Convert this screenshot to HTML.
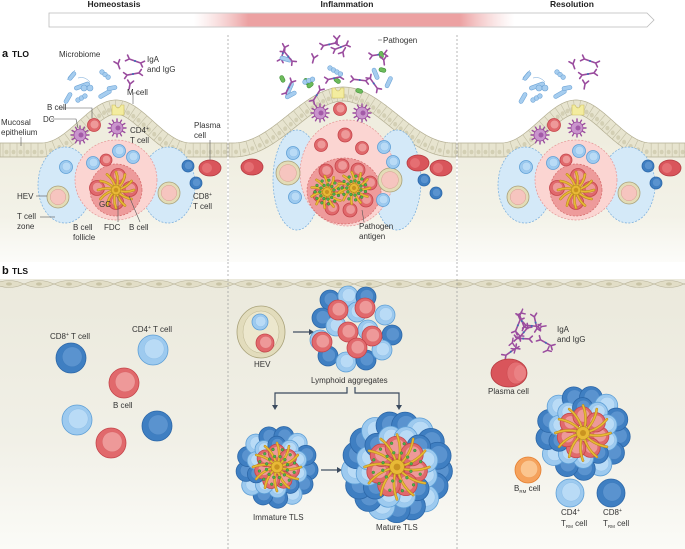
<!DOCTYPE html>
<html><head><meta charset="utf-8">
<style>
html,body{margin:0;padding:0;background:#fff;}
svg{display:block;font-family:"Liberation Sans",sans-serif;}
text{fill:#333;font-size:8px;}
.h{font-weight:bold;font-size:8.5px;fill:#222;}
</style></head><body>
<svg id="s" width="685" height="549" viewBox="0 0 685 549" xmlns="http://www.w3.org/2000/svg">
<defs>
<linearGradient id="barp" x1="49" x2="653" gradientUnits="userSpaceOnUse">
<stop offset="0.24" stop-color="#f4c4c4" stop-opacity="0"/>
<stop offset="0.33" stop-color="#eca1a2"/>
<stop offset="0.68" stop-color="#eca1a2"/>
<stop offset="0.77" stop-color="#f4c4c4" stop-opacity="0"/>
</linearGradient>
<linearGradient id="ga" x1="0" x2="0" y1="140" y2="278" gradientUnits="userSpaceOnUse">
<stop offset="0" stop-color="#efeddf"/><stop offset="0.55" stop-color="#f3f2e8"/><stop offset="1" stop-color="#fff"/>
</linearGradient>
<linearGradient id="gb" x1="0" x2="0" y1="280" y2="549" gradientUnits="userSpaceOnUse">
<stop offset="0" stop-color="#ebe9dc"/><stop offset="0.6" stop-color="#f1f0e7"/><stop offset="1" stop-color="#fbfbf7"/>
</linearGradient>
</defs>
<rect width="685" height="549" fill="#fff"/>
<path d="M49,13 L647,13 L654,20 L647,27 L49,27 Z" fill="#fff" stroke="#bbb" stroke-width="0.8"/>
<path d="M49,13.5 L647,13.5 L653,20 L647,26.5 L49,26.5 Z" fill="url(#barp)"/>
<text class="h" x="114" y="7" text-anchor="middle">Homeostasis</text>
<text class="h" x="347" y="7" text-anchor="middle">Inflammation</text>
<text class="h" x="572" y="7" text-anchor="middle">Resolution</text>
<rect x="0" y="279" width="685" height="270" fill="url(#gb)"/>
<g id="dyn"></g>
<line x1="228" y1="35" x2="228" y2="549" stroke="#999" stroke-width="0.7" stroke-dasharray="2,2"/>
<line x1="457" y1="35" x2="457" y2="549" stroke="#999" stroke-width="0.7" stroke-dasharray="2,2"/>
<rect x="0" y="262" width="685" height="16" fill="#fff"/>
<line x1="228" y1="262" x2="228" y2="278" stroke="#999" stroke-width="0.7" stroke-dasharray="2,2"/>
<line x1="457" y1="262" x2="457" y2="278" stroke="#999" stroke-width="0.7" stroke-dasharray="2,2"/>
<text x="2" y="57" style="font-weight:bold;font-size:11px;fill:#111">a</text><text x="12" y="57" style="font-weight:bold;font-size:8.5px;fill:#111">TLO</text>
<text x="2" y="274" style="font-weight:bold;font-size:11px;fill:#111">b</text><text x="12" y="274" style="font-weight:bold;font-size:8.5px;fill:#111">TLS</text>
<g id="lbl">
<text x="59" y="57">Microbiome</text>
<text x="147" y="62">IgA</text><text x="147" y="72">and IgG</text>
<text x="127" y="95">M cell</text>
<text x="47" y="110">B cell</text>
<text x="43" y="122">DC</text>
<text x="1" y="125">Mucosal</text><text x="1" y="135">epithelium</text>
<text x="130" y="133">CD4<tspan font-size="5" dy="-3">+</tspan></text><text x="130" y="143">T cell</text>
<text x="194" y="128">Plasma</text><text x="194" y="138">cell</text>
<text x="193" y="199">CD8<tspan font-size="5" dy="-3">+</tspan></text><text x="193" y="209">T cell</text>
<text x="17" y="199">HEV</text>
<text x="17" y="219">T cell</text><text x="17" y="229">zone</text>
<text x="73" y="230">B cell</text><text x="73" y="240">follicle</text>
<text x="104" y="230">FDC</text>
<text x="129" y="230">B cell</text>
<text x="99" y="207">GC</text>
<text x="383" y="43">Pathogen</text>
<text x="359" y="229">Pathogen</text><text x="359" y="239">antigen</text>
<text x="50" y="339">CD8<tspan font-size="5" dy="-3">+</tspan><tspan dy="3"> T cell</tspan></text>
<text x="132" y="332">CD4<tspan font-size="5" dy="-3">+</tspan><tspan dy="3"> T cell</tspan></text>
<text x="113" y="408">B cell</text>
<text x="254" y="367">HEV</text>
<text x="311" y="383">Lymphoid aggregates</text>
<text x="253" y="520">Immature TLS</text>
<text x="376" y="530">Mature TLS</text>
<text x="557" y="332">IgA</text><text x="557" y="342">and IgG</text>
<text x="488" y="394">Plasma cell</text>
<text x="514" y="491">B<tspan font-size="4.5" dy="2">RM</tspan><tspan dy="-2"> cell</tspan></text>
<text x="561" y="515">CD4<tspan font-size="5" dy="-3">+</tspan></text><text x="561" y="526">T<tspan font-size="4.5" dy="2">RM</tspan><tspan dy="-2"> cell</tspan></text>
<text x="603" y="515">CD8<tspan font-size="5" dy="-3">+</tspan></text><text x="603" y="526">T<tspan font-size="4.5" dy="2">RM</tspan><tspan dy="-2"> cell</tspan></text>
</g>
<g stroke="#555" stroke-width="0.6" fill="none">
<path d="M58,108 L92,108 L92,118"/><path d="M51,119 L76,119 L78,128"/>
<path d="M139,93 L133,93 L133,104"/><path d="M21,137 L21,146"/>
<path d="M36,196 L47,196"/><path d="M40,217 L55,217"/>
<path d="M118,222 L118,196"/><path d="M140,222 L129,196"/>
<path d="M382,40 L378,40"/><path d="M364,222 L362,210"/>
<path d="M210,140 L210,160"/>
</g>
</svg>
<script>
let o='';
let seed=7;function rnd(){seed=(seed*9301+49297)%233280;return seed/233280;}
const P={db:['#2c67a8','#3f7fc2','#5a93cf'],lb:['#5e9fd6','#9dcaef','#b9dbf6'],r:['#c5454b','#e1696c','#ee9999'],o:['#e57f30','#f5a25c','#fbc58f']};
function cell(x,y,r,t){const p=P[t];o+=`<circle cx="${x}" cy="${y}" r="${r}" fill="${p[1]}" stroke="${p[0]}" stroke-width="0.8"/><circle cx="${x+r*0.08}" cy="${y-r*0.08}" r="${r*0.66}" fill="${p[2]}" stroke="${p[0]}" stroke-opacity="0.35" stroke-width="0.5"/>`;}
function epi(x0,x1,cx,H,w){
 const top=x=>{const u=(x-cx)/w;return 143-(Math.abs(u)<1?H*(1+Math.cos(Math.PI*u))/2:0);};
 const sl=x=>(top(x+0.5)-top(x-0.5));
 let T=[],B=[];
 for(let x=x0;x<=x1;x+=1){const s=sl(x),L=Math.hypot(1,s);const nx=-s/L,ny=1/L;T.push([x,top(x)]);B.push([x+14*nx,top(x)+14*ny]);}
 o+=`<polygon points="${T.map(p=>p.join(',')).join(' ')} ${x1},262 ${x0},262" fill="url(#ga)"/>`;
 o+=`<polygon points="${T.map(p=>p.join(',')).join(' ')} ${B.slice().reverse().map(p=>p.join(',')).join(' ')}" fill="#e7e4cf" stroke="#b3ae92" stroke-width="0.7"/>`;
 let x=x0+3;
 while(x<x1){const s=sl(x),L=Math.hypot(1,s);const nx=-s/L,ny=1/L;const y=top(x);
  o+=`<line x1="${x}" y1="${y}" x2="${x+14*nx}" y2="${y+14*ny}" stroke="#c2bea4" stroke-width="0.6"/>`;
  const xm=x+3.5/L;const s2=sl(xm),L2=Math.hypot(1,s2);
  o+=`<ellipse cx="${xm+9*(-s2/L2)}" cy="${top(xm)+9/L2}" rx="2" ry="2.3" fill="#d3cfb4"/>`;
  x+=7/L;}
}
function Y(x,y,a,s){s=s||1;o+=`<g transform="translate(${x},${y}) rotate(${a}) scale(${s})" stroke="#9a4c9e" stroke-width="1.6" stroke-linecap="round" fill="none"><path d="M0,0 L0,5 M0,0 L-3,-3.5 M0,0 L3,-3.5"/></g>`;}
function Ylong(x,y,a){o+=`<g transform="translate(${x},${y}) rotate(${a})" stroke="#9a4c9e" stroke-width="1.6" stroke-linecap="round" fill="none"><path d="M-6,0 L6,0 M-6,0 L-9,-3 M-6,0 L-9,3 M6,0 L9,-3 M6,0 L9,3"/><circle cx="0" cy="0" r="1" fill="#3a6fb5" stroke="none"/></g>`;}
function rod(x,y,a,l,c,sc){o+=`<rect x="${x-l/2}" y="${y-2}" width="${l}" height="4" rx="2" transform="rotate(${a} ${x} ${y})" fill="${c}" stroke="${sc}" stroke-width="0.6"/>`;}
function cocci(x,y,n,a){for(let i=0;i<n;i++){const dx=Math.cos(a*Math.PI/180)*i*4,dy=Math.sin(a*Math.PI/180)*i*4;o+=`<circle cx="${x+dx}" cy="${y+dy}" r="2.3" fill="#a6cdef" stroke="#6ea4d6" stroke-width="0.6"/>`;}}
function dc(x,y){let sp='';for(let i=0;i<12;i++){const a=i*Math.PI/6;sp+=`M${x+Math.cos(a)*5},${y+Math.sin(a)*5} L${x+Math.cos(a)*9},${y+Math.sin(a)*9} `;}o+=`<path d="${sp}" stroke="#9a4c9e" stroke-width="1.4" stroke-linecap="round"/><circle cx="${x}" cy="${y}" r="6" fill="#c994cc" stroke="#9a4c9e" stroke-width="0.7"/><circle cx="${x+1}" cy="${y}" r="2.5" fill="#a35aa8"/>`;}
function mcell(x,y){o+=`<path d="M${x-6},${y-5} L${x-6},${y+5} L${x+6},${y+5} L${x+6},${y-5} L${x+3},${y-5} Q${x},${y+1} ${x-3},${y-5} Z" fill="#f3ec9f" stroke="#cdbf5c" stroke-width="0.6"/>`;}
function hev(x,y,r){o+=`<circle cx="${x}" cy="${y}" r="${r}" fill="#e3dcb7" stroke="#a9a27a" stroke-width="0.8"/><circle cx="${x}" cy="${y}" r="${r*0.7}" fill="#f6c5bf" stroke="#d99b93" stroke-width="0.5"/>`;}
function plasma(x,y){o+=`<ellipse cx="${x}" cy="${y}" rx="11" ry="8" fill="#d9555b" stroke="#b53a40" stroke-width="0.8"/><ellipse cx="${x-3}" cy="${y}" rx="5" ry="5" fill="#e56f73"/>`;}
function fdc(x,y,R,n,dots){let d='';for(let i=0;i<n;i++){const a=i*2*Math.PI/n;const bx=x+Math.cos(a)*R,by=y+Math.sin(a)*R;const mx=x+Math.cos(a+0.35)*R*0.55,my=y+Math.sin(a+0.35)*R*0.55;d+=`M${x},${y} Q${mx},${my} ${bx},${by} `;}
 o+=`<path d="${d}" stroke="#b88a1c" stroke-width="2.6" fill="none" stroke-linecap="round"/><path d="${d}" stroke="#e8b936" stroke-width="1.6" fill="none" stroke-linecap="round"/><circle cx="${x}" cy="${y}" r="${R*0.18+1.5}" fill="#e8b936" stroke="#b88a1c" stroke-width="0.6"/><circle cx="${x}" cy="${y}" r="${R*0.08+0.8}" fill="#c99320"/>`;
 if(dots){for(let i=0;i<n;i++){const a=i*2*Math.PI/n+0.3;for(const f of [0.45,0.75]){o+=`<circle cx="${x+Math.cos(a)*R*f}" cy="${y+Math.sin(a)*R*f}" r="1.4" fill="#4fb04a" stroke="#2d7a2a" stroke-width="0.4"/>`;}}}}
function ring(cx,cy,R,ry,n,r,types,off){for(let i=0;i<n;i++){const a=i*2*Math.PI/n+(off||0);cell(cx+Math.cos(a)*R,cy+Math.sin(a)*ry,r,types[i%types.length]);}}
function tls(cx,cy,R,mature,dots){
 ring(cx,cy,R*0.78,R*0.78,mature?17:13,R*0.25,['db','db','lb'],0.1);
 ring(cx,cy,R*0.55,R*0.55,mature?12:10,R*0.22,['lb','db','lb'],0.3);
 if(mature)o+=`<circle cx="${cx}" cy="${cy}" r="${R*0.45}" fill="#c64a50"/>`;
 ring(cx,cy,R*0.36,R*0.36,7,R*0.21,['r'],0.2);
 fdc(cx,cy,R*0.6,12,dots);
}
epi(0,227,116,43,75);
epi(229,456,343,56,110);
epi(458,685,576,43,75);
function tlo(dx){
 o+=`<ellipse cx="${65+dx}" cy="185" rx="27" ry="38" fill="#d4e9f8" stroke="#76acdc" stroke-width="0.7" stroke-dasharray="2,1.5"/>`;
 o+=`<ellipse cx="${168+dx}" cy="185" rx="27" ry="38" fill="#d4e9f8" stroke="#76acdc" stroke-width="0.7" stroke-dasharray="2,1.5"/>`;
 o+=`<ellipse cx="${116+dx}" cy="180" rx="41" ry="40" fill="#fbd5d2" stroke="#e49595" stroke-width="0.7" stroke-dasharray="2,1.5"/>`;
 o+=`<circle cx="${116+dx}" cy="190" r="26" fill="#ee9b9b" stroke="#d46a6a" stroke-width="0.7" stroke-dasharray="2,1.5"/>`;
 for(const [x,y] of [[97,188],[118,176],[130,189],[116,202]])cell(x+dx,y,7.5,'r');
 fdc(116+dx,190,18,12,false);
 cell(119+dx,151,6.5,'lb');cell(93+dx,163,6.5,'lb');cell(133+dx,157,6.5,'lb');cell(106+dx,160,6,'r');
 cell(66+dx,167,6.5,'lb');
 hev(58+dx,197,11);hev(169+dx,193,11);
 cell(188+dx,166,6,'db');cell(196+dx,183,6,'db');plasma(210+dx,168);
 cell(94+dx,125,6.5,'r');dc(80+dx,135);dc(117+dx,128);mcell(118+dx,110);
}
tlo(0);tlo(460);
function micro(dx){
 rod(82+dx,86,-20,16,'#a6cdef','#6ea4d6');rod(68+dx,98,-60,12,'#a6cdef','#6ea4d6');rod(105+dx,94,-30,14,'#a6cdef','#6ea4d6');
 rod(72+dx,76,-50,10,'#a6cdef','#6ea4d6');rod(112+dx,88,-10,10,'#a6cdef','#6ea4d6');
 cocci(102+dx,72,3,40);cocci(78+dx,100,3,-30);
 o+=`<circle cx="${84+dx}" cy="88" r="3" fill="#a6cdef" stroke="#6ea4d6" stroke-width="0.6"/><circle cx="${90+dx}" cy="88" r="3" fill="#a6cdef" stroke="#6ea4d6" stroke-width="0.6"/>`;
 o+=`<path d="M${75+dx},70 q-5,5 -8,10 M${90+dx},82 q-5,-6 -12,-4" stroke="#6ea4d6" stroke-width="0.5" fill="none"/>`;
 Y(118+dx,64,-20);Ylong(135+dx,61,20);Ylong(133+dx,74,-10);Y(130+dx,84,10);
}
micro(0);micro(455);
{
 o+=`<ellipse cx="297" cy="180" rx="24" ry="50" fill="#d4e9f8" stroke="#76acdc" stroke-width="0.7" stroke-dasharray="2,1.5"/>`;
 o+=`<ellipse cx="397" cy="180" rx="24" ry="50" fill="#d4e9f8" stroke="#76acdc" stroke-width="0.7" stroke-dasharray="2,1.5"/>`;
 o+=`<ellipse cx="347" cy="173" rx="47" ry="53" fill="#fbd5d2" stroke="#e49595" stroke-width="0.7" stroke-dasharray="2,1.5"/>`;
 o+=`<ellipse cx="344" cy="191" rx="37" ry="33" fill="#ee9b9b" stroke="#d46a6a" stroke-width="0.7" stroke-dasharray="2,1.5"/>`;
 for(const [x,y] of [[326,171],[342,166],[358,170],[320,195],[332,208],[350,210],[366,200],[370,183],[337,187]])cell(x,y,7,'r');
 fdc(327,192,16,11,true);fdc(354,188,16,11,true);
 cell(345,135,7,'r');cell(321,145,6.5,'r');cell(362,148,6.5,'r');
 cell(340,109,6.5,'r');dc(320,113);dc(362,113);mcell(338,93);
 hev(288,173,12);hev(390,180,12);
 cell(293,153,6.5,'lb');cell(295,197,6.5,'lb');cell(384,147,6.5,'lb');cell(393,162,6.5,'lb');cell(383,200,6.5,'lb');
 plasma(252,167);plasma(418,163);plasma(441,168);cell(424,180,6,'db');cell(436,193,6,'db');
 seed=11;
 for(let i=0;i<26;i++){const x=278+rnd()*125,y=33+rnd()*64;const t=rnd();
  if(t<0.35)rod(x,y,rnd()*180,7,'#6dbb5a','#3f8f3a');else if(t<0.75){if(rnd()<0.5)Y(x,y,rnd()*360);else Ylong(x,y,rnd()*180);}else rod(x,y,rnd()*180,12,'#a6cdef','#6ea4d6');}
 cocci(330,68,4,30);cocci(305,82,3,-20);
}
for(let x=-6;x<690;x+=30){o+=`<path d="M${x},284 Q${x+15},277 ${x+30},284 Q${x+15},291 ${x},284 Z" fill="#e2dec7" stroke="#b6b197" stroke-width="0.6"/><ellipse cx="${x+15}" cy="284" rx="3" ry="1.6" fill="#c9c4a6"/>`;}
cell(71,358,15,'db');cell(153,350,15,'lb');cell(124,383,15,'r');cell(77,420,15,'lb');cell(111,443,15,'r');cell(157,426,15,'db');
o+=`<ellipse cx="261" cy="332" rx="24" ry="26" fill="#e2dcbc" stroke="#a9a27a" stroke-width="0.8"/><ellipse cx="261" cy="332" rx="18" ry="21" fill="#ece7cd" stroke="#bdb690" stroke-width="0.5"/>`;
cell(260,322,8,'lb');cell(265,343,9,'r');
o+=`<g stroke="#3b4a5e" stroke-width="1.2" fill="none"><path d="M293,332 L309,332"/><path d="M347,387 L347,393 L275,393 L275,406"/><path d="M355,387 L355,393 L399,393 L399,406"/><path d="M321,470 L337,470"/></g>`;
o+=`<g fill="#3b4a5e"><path d="M309,329 L314,332 L309,335Z"/><path d="M272,405 L275,410 L278,405Z"/><path d="M396,405 L399,410 L402,405Z"/><path d="M337,467 L342,470 L337,473Z"/></g>`;
{const pts=[[330,300,'db'],[348,296,'lb'],[366,297,'db'],[322,318,'db'],[385,315,'lb'],[392,335,'db'],[320,340,'lb'],[328,356,'db'],[346,362,'lb'],[366,360,'db'],[382,350,'lb'],[357,312,'lb'],[336,326,'lb'],[368,330,'lb']];
 for(const [x,y,t] of pts)cell(x,y,10,t);
 for(const [x,y] of [[338,310],[365,308],[348,332],[372,336],[322,342],[357,348]])cell(x,y,10,'r');}
tls(277,467,40,false,true);
tls(397,467,54,true,true);
seed=3;for(let i=0;i<14;i++){const x=508+rnd()*42,y=312+rnd()*42;if(rnd()<0.6)Y(x,y,rnd()*360,0.9);else Ylong(x,y,rnd()*180);}
o+=`<ellipse cx="509" cy="373" rx="18" ry="14" fill="#d9555b" stroke="#b53a40" stroke-width="0.8"/><ellipse cx="516" cy="373" rx="9" ry="11" fill="#e56f73" stroke="#c94a4f" stroke-width="0.5"/><ellipse cx="520" cy="373" rx="6" ry="8" fill="#ea8184"/>`;
tls(583,433,46,false,false);
cell(528,470,13,'o');cell(570,493,14,'lb');cell(611,493,14,'db');
document.getElementById('dyn').innerHTML=o;
</script>
</body></html>
